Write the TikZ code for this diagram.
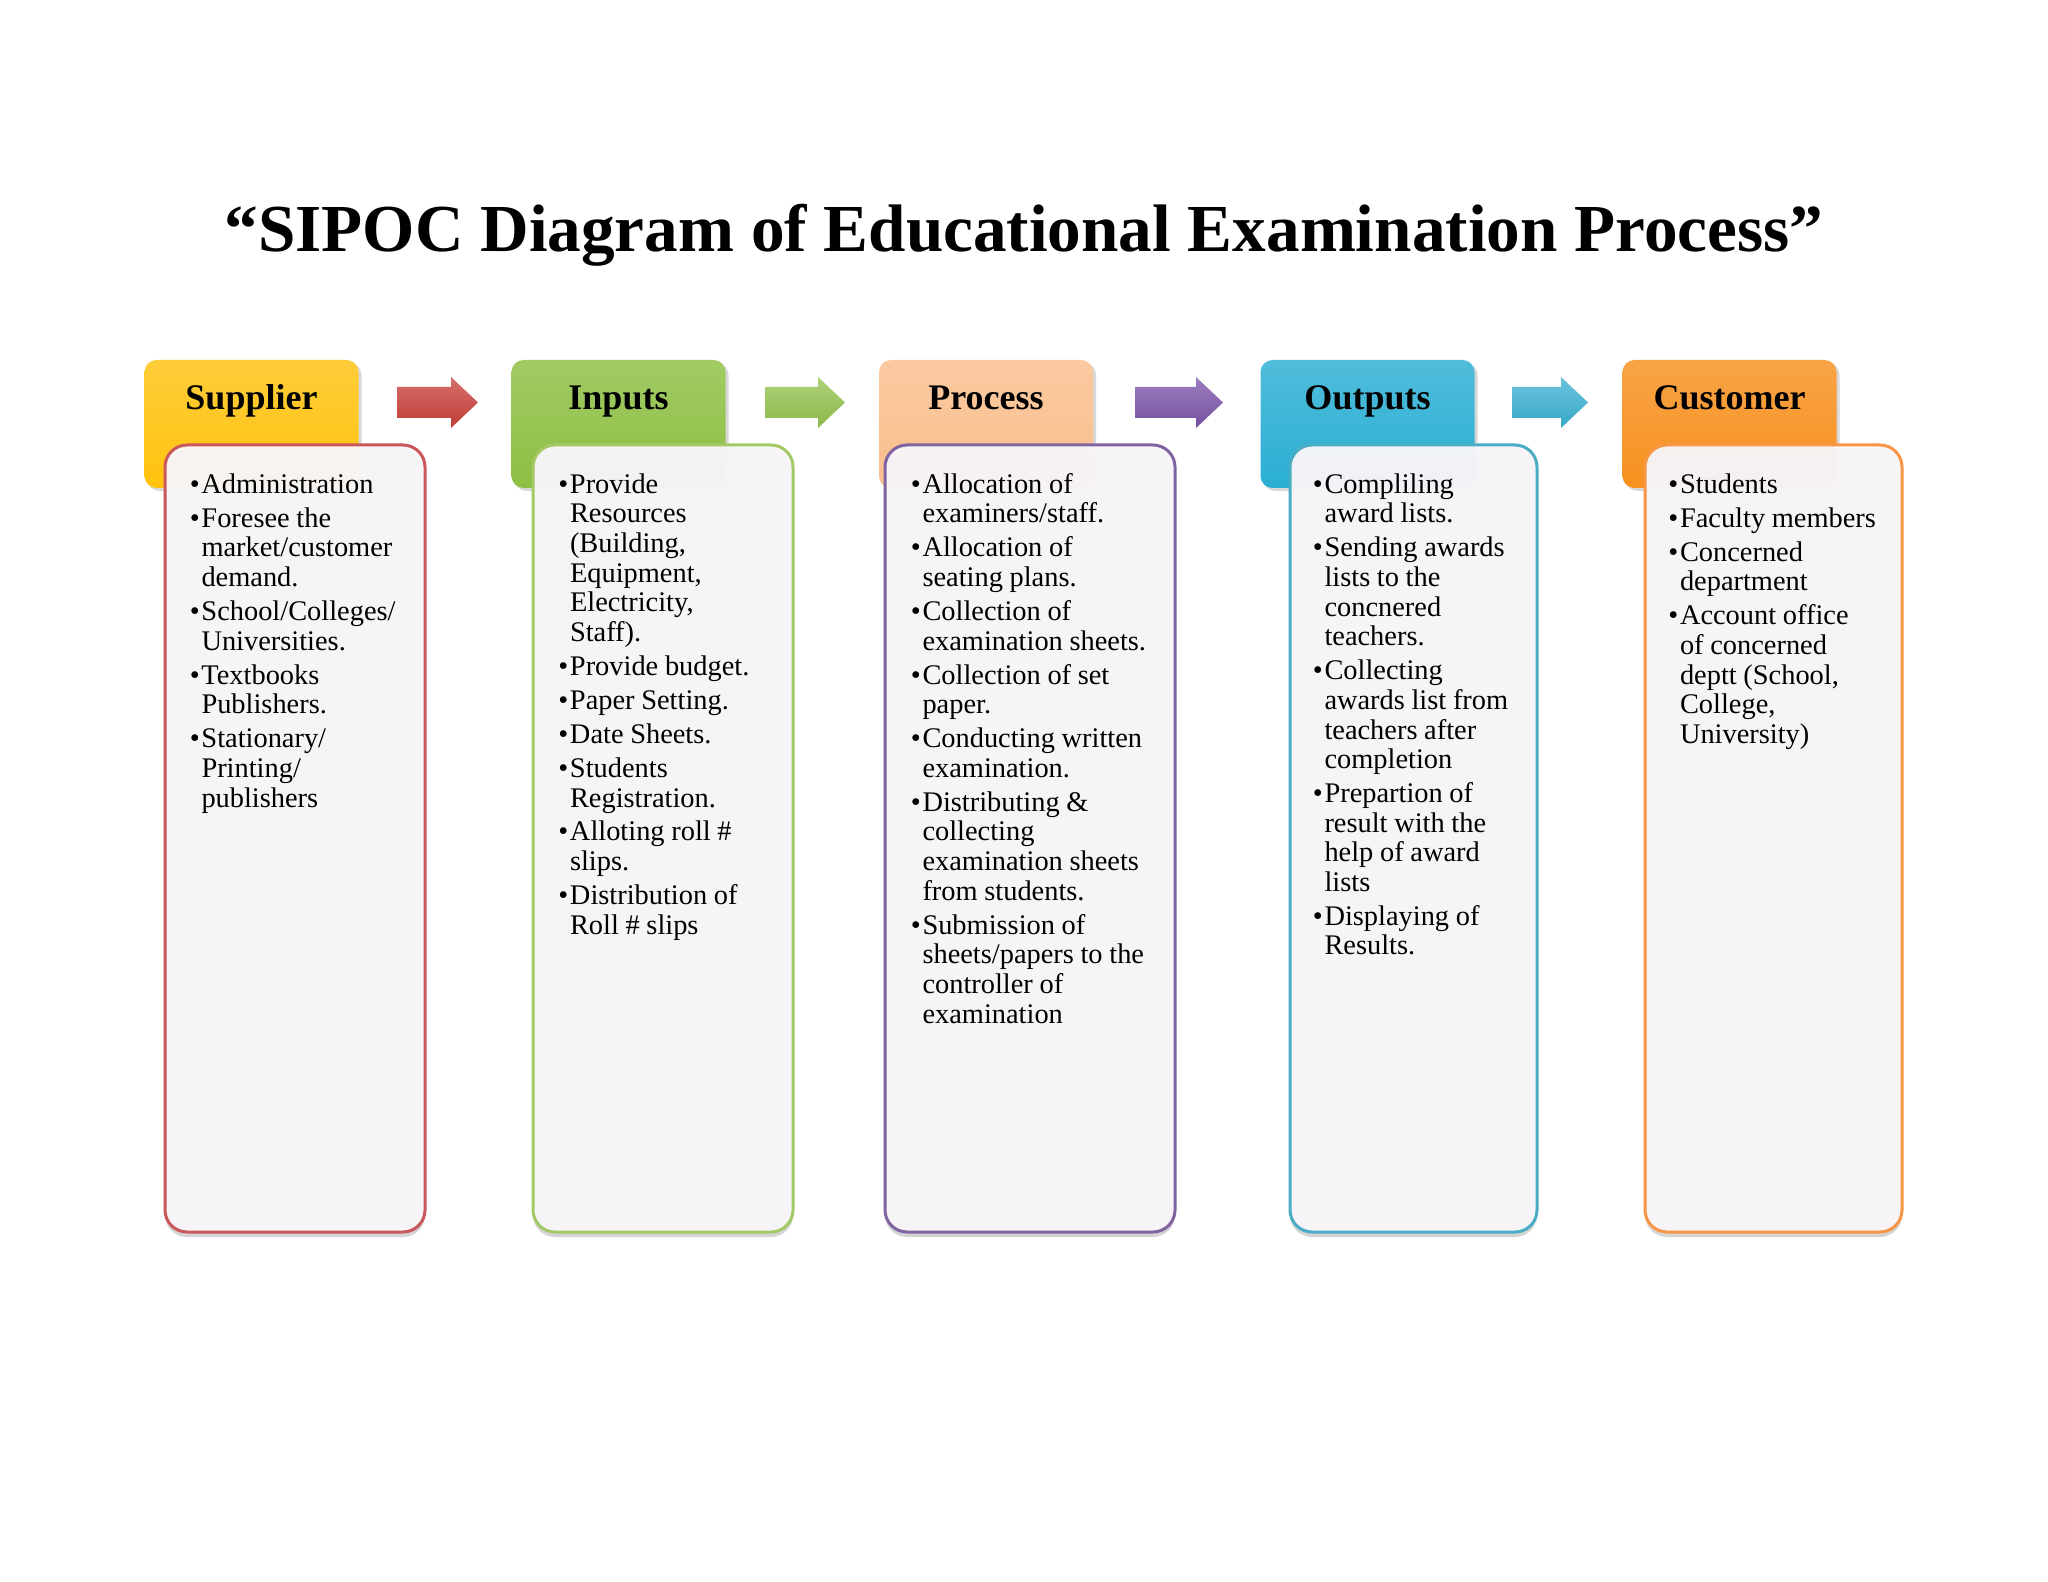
\documentclass[tikz,border=0pt]{standalone}
\usepackage{fontspec}
\setmainfont{Liberation Serif}
\usetikzlibrary{shadows}
\definecolor{supC}{HTML}{FFC20E}
\definecolor{inpC}{HTML}{8DBF42}
\definecolor{proC}{HTML}{F9BE8C}
\definecolor{outC}{HTML}{2AAED3}
\definecolor{cusC}{HTML}{F7901E}
\definecolor{arRed}{HTML}{C9403A}
\definecolor{arGrn}{HTML}{93C24E}
\definecolor{arPur}{HTML}{7A54A8}
\definecolor{arBlu}{HTML}{3AB0D3}
\definecolor{supB}{HTML}{C9575B}
\definecolor{inpB}{HTML}{A3C966}
\definecolor{proB}{HTML}{8064A2}
\definecolor{outB}{HTML}{4BACC6}
\definecolor{cusB}{HTML}{F79646}
\definecolor{bodyF}{HTML}{F8F6F8}
\newcommand\bitem[1]{\par\noindent\hangindent=5.8pt\hangafter=1\makebox[5.8pt][l]{\textbullet}\rule{0pt}{11pt}#1}
\newcommand\colstart{\fontsize{14.2}{14.8}\selectfont\raggedright\setlength\parskip{2.2pt}}
\tikzset{
  hdr/.style={rectangle, rounded corners=6pt, minimum width=107pt, minimum height=64pt, inner sep=0pt,
    top color=#1!82!white, bottom color=#1, draw=none,
    drop shadow={shadow xshift=1.5pt, shadow yshift=-1.5pt, opacity=0.25, fill=black!60}},
  bodybox/.style={rectangle, rounded corners=11pt, minimum height=393.5pt, inner sep=0pt,
    draw=#1, line width=1.5pt, fill=bodyF, fill opacity=0.96, draw opacity=1,
    drop shadow={shadow xshift=0pt, shadow yshift=-2.5pt, opacity=0.3, fill=black!55}},
  hlabel/.style={anchor=base, inner sep=0pt, font=\fontsize{18}{20}\selectfont\bfseries},
  coltext/.style={anchor=north west, inner sep=0pt, text width=150pt}
}
\newcommand\sarrow[4]{\shade[top color=#4!75!white, bottom color=#4!95!black]
  (#1,387) -- (#2,387) -- (#2,377) -- (#3,402.5) -- (#2,428) -- (#2,418) -- (#1,418) -- cycle;}
\begin{document}
\begin{tikzpicture}[x=0.5pt,y=-0.5pt]
\fill[white] (0,0) rectangle (2048,1582);
\useasboundingbox (0,0) rectangle (2048,1582);

\node[anchor=base, inner sep=0pt, font=\fontsize{33.6}{40}\selectfont\bfseries] (title) at (1024,252)
  {“SIPOC Diagram of Educational Examination Process”};

% headers
\node[hdr=supC] (supH) at (251.5,424) {};
\node[hdr=inpC] (inpH) at (618.5,424) {};
\node[hdr=proC] (proH) at (986,424) {};
\node[hdr=outC] (outH) at (1367.5,424) {};
\node[hdr=cusC] (cusH) at (1729.5,424) {};

\node[hlabel] (supL) at (251.5,410) {Supplier};
\node[hlabel] (inpL) at (618.5,410) {Inputs};
\node[hlabel] (proL) at (986,410) {Process};
\node[hlabel] (outL) at (1367.5,410) {Outputs};
\node[hlabel] (cusL) at (1729.5,410) {Customer};

% arrows
\sarrow{397}{451}{478}{arRed}
\sarrow{765}{818}{845}{arGrn}
\sarrow{1135}{1196}{1223}{arPur}
\sarrow{1512}{1561}{1588}{arBlu}

% bodies
\node[bodybox=supB, minimum width=130pt] (supB) at (295,838.5) {};
\node[bodybox=inpB, minimum width=130pt] (inpB) at (663,838.5) {};
\node[bodybox=proB, minimum width=145pt] (proB) at (1030,838.5) {};
\node[bodybox=outB, minimum width=123.5pt] (outB) at (1413.5,838.5) {};
\node[bodybox=cusB, minimum width=128.5pt] (cusB) at (1773.5,838.5) {};

% texts
\node[coltext] (supT) at (189.5,459) {\colstart
\bitem{Administration}
\bitem{Foresee the\newline market/customer\newline demand.}
\bitem{School/Colleges/\newline Universities.}
\bitem{Textbooks\newline Publishers.}
\bitem{Stationary/\newline Printing/\newline publishers}\par};

\node[coltext] (inpT) at (558,459) {\colstart
\bitem{Provide\newline Resources\newline (Building,\newline Equipment,\newline Electricity,\newline Staff).}
\bitem{Provide budget.}
\bitem{Paper Setting.}
\bitem{Date Sheets.}
\bitem{Students\newline Registration.}
\bitem{Alloting roll \#\newline slips.}
\bitem{Distribution of\newline Roll \# slips}\par};

\node[coltext] (proT) at (910.5,459) {\colstart
\bitem{Allocation of\newline examiners/staff.}
\bitem{Allocation of\newline seating plans.}
\bitem{Collection of\newline examination sheets.}
\bitem{Collection of set\newline paper.}
\bitem{Conducting written\newline examination.}
\bitem{Distributing \&\newline collecting\newline examination sheets\newline from students.}
\bitem{Submission of\newline sheets/papers to the\newline controller of\newline examination}\par};

\node[coltext] (outT) at (1312.5,459) {\colstart
\bitem{Compliling\newline award lists.}
\bitem{Sending awards\newline lists to the\newline concnered\newline teachers.}
\bitem{Collecting\newline awards list from\newline teachers after\newline completion}
\bitem{Prepartion of\newline result with the\newline help of award\newline lists}
\bitem{Displaying of\newline Results.}\par};

\node[coltext] (cusT) at (1668,459) {\colstart
\bitem{Students}
\bitem{Faculty members}
\bitem{Concerned\newline department}
\bitem{Account office\newline of concerned\newline deptt (School,\newline College,\newline University)}\par};
\end{tikzpicture}
\end{document}
